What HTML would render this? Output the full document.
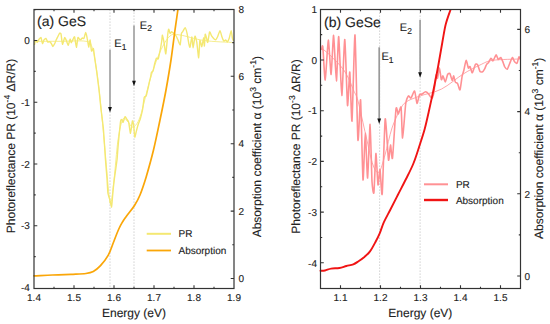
<!DOCTYPE html>
<html><head><meta charset="utf-8"><style>
html,body{margin:0;padding:0;background:#fff;}
svg{display:block;}
text{text-rendering:geometricPrecision;stroke:#222;stroke-width:0.12px;}
</style></head><body>
<svg width="550" height="324" viewBox="0 0 550 324" font-family="Liberation Sans, sans-serif" fill="#222">
<rect width="550" height="324" fill="#fff"/>
<line x1="110" y1="9.5" x2="110" y2="287.5" stroke="#cccccc" stroke-width="1.1" stroke-dasharray="1.2 1.8"/>
<line x1="134" y1="9.5" x2="134" y2="287.5" stroke="#cccccc" stroke-width="1.1" stroke-dasharray="1.2 1.8"/>
<line x1="379.6" y1="9.5" x2="379.6" y2="287.5" stroke="#cccccc" stroke-width="1.1" stroke-dasharray="1.2 1.8"/>
<line x1="420.1" y1="9.5" x2="420.1" y2="287.5" stroke="#cccccc" stroke-width="1.1" stroke-dasharray="1.2 1.8"/>
<path d="M34.0 41.3C38.3 41.3 51.3 41.3 60.0 41.3C68.7 41.3 80.7 40.3 86.0 41.3C91.3 42.2 90.3 42.9 92.0 47.0C93.7 51.1 94.7 57.5 96.0 66.0C97.3 74.5 98.5 84.0 100.0 98.0C101.5 112.0 103.5 133.8 105.0 150.0C106.5 166.2 108.0 186.2 109.0 195.0C110.0 203.8 110.2 205.5 111.0 203.0C111.8 200.5 112.8 190.5 114.0 180.0C115.2 169.5 116.5 150.2 118.0 140.0C119.5 129.8 121.3 122.0 123.0 119.0C124.7 116.0 126.3 120.7 128.0 122.0C129.7 123.3 131.0 127.8 133.0 127.0C135.0 126.2 137.2 124.8 140.0 117.0C142.8 109.2 146.7 90.8 150.0 80.0C153.3 69.2 156.7 59.3 160.0 52.0C163.3 44.7 166.7 38.8 170.0 36.0C173.3 33.2 174.3 34.2 180.0 35.0C185.7 35.8 195.0 39.2 204.0 40.5C213.0 41.8 229.0 42.2 234.0 42.5" fill="none" stroke="#f4e872" stroke-width="0.8" stroke-linejoin="round"/>
<path d="M34.4 45.0C34.5 44.6 35.3 40.8 35.5 40.6C35.7 40.4 37.0 42.4 37.3 42.4C37.5 42.4 38.2 40.4 38.5 40.0C38.8 39.6 40.7 37.3 41.0 37.6C41.3 37.9 42.2 43.4 42.5 43.6C42.8 43.8 43.7 40.3 44.0 39.9C44.3 39.5 45.6 38.2 45.9 38.4C46.2 38.6 47.4 41.7 47.7 42.0C48.0 42.3 49.3 41.6 49.6 41.7C49.9 41.8 51.0 43.1 51.3 43.5C51.6 43.9 52.6 46.5 52.9 46.5C53.2 46.5 54.4 44.1 54.7 43.6C55.0 43.1 56.0 40.5 56.2 39.9C56.5 39.3 57.4 37.5 57.7 36.9C58.0 36.3 59.3 33.5 59.6 33.2C59.9 33.0 60.8 33.0 61.0 33.9C61.2 34.8 62.2 44.0 62.5 44.3C62.8 44.6 64.3 38.0 64.6 37.6C64.9 37.2 65.8 39.2 66.1 39.9C66.4 40.5 68.0 45.5 68.3 45.4C68.6 45.3 69.8 39.3 70.1 39.1C70.3 38.9 71.0 42.8 71.3 42.8C71.5 42.8 72.8 39.6 73.1 39.1C73.4 38.6 74.3 36.2 74.6 36.9C74.9 37.6 76.1 47.2 76.4 47.3C76.7 47.4 77.7 38.3 77.9 37.6C78.2 36.9 79.2 38.9 79.4 39.1C79.7 39.3 80.7 39.6 80.9 39.5C81.2 39.4 82.2 38.1 82.4 38.0C82.7 37.9 83.6 38.9 83.9 38.4C84.2 37.9 85.4 32.4 85.7 32.4C86.0 32.4 87.0 37.2 87.2 38.4C87.5 39.6 88.5 46.9 88.7 47.0C88.9 47.1 89.9 39.7 90.1 40.0C90.3 40.3 91.2 50.3 91.5 51.0C91.8 51.7 93.1 48.1 93.4 48.6C93.7 49.1 94.3 55.3 94.6 57.3C94.9 59.3 96.4 69.7 96.8 72.4C97.2 75.1 98.6 86.6 99.0 89.7C99.4 92.8 100.7 106.8 101.1 110.0C101.5 113.2 102.9 123.6 103.3 127.8C103.7 132.0 105.2 155.8 105.5 160.0C105.8 164.2 106.8 175.8 107.0 178.5C107.2 181.2 107.7 191.3 107.9 193.0C108.1 194.7 109.4 197.8 109.7 199.0C110.0 200.2 111.4 207.2 111.6 207.0C111.8 206.8 112.3 199.4 112.5 197.0C112.7 194.6 114.0 181.6 114.4 178.5C114.8 175.4 116.7 162.8 117.0 160.0C117.3 157.2 117.9 148.2 118.2 145.0C118.5 141.8 120.3 123.1 120.6 121.0C120.9 118.9 121.7 119.7 121.9 119.8C122.1 119.9 122.8 122.6 123.1 122.3C123.4 122.0 124.7 117.0 125.0 116.7C125.3 116.4 126.5 118.7 126.8 119.2C127.1 119.7 128.4 121.1 128.7 122.3C129.0 123.5 130.2 133.5 130.5 133.4C130.8 133.3 132.1 121.7 132.4 121.0C132.7 120.3 133.4 123.5 133.6 124.8C133.8 126.1 134.5 136.7 134.8 137.1C135.1 137.5 136.4 130.8 136.7 129.7C137.0 128.6 138.2 124.4 138.5 123.5C138.8 122.6 140.1 119.7 140.4 118.6C140.7 117.5 142.2 111.8 142.5 110.0C142.8 108.2 144.0 98.4 144.3 97.2C144.6 96.0 145.9 96.7 146.2 96.0C146.5 95.3 147.7 89.6 148.0 88.5C148.3 87.4 149.1 83.2 149.3 82.3C149.5 81.4 150.3 78.2 150.5 77.4C150.7 76.6 151.2 73.0 151.4 72.5C151.6 72.0 152.8 71.6 153.1 70.8C153.4 70.0 154.5 64.3 154.8 63.2C155.1 62.1 156.2 58.5 156.5 58.1C156.8 57.8 157.9 59.6 158.2 59.0C158.5 58.4 159.6 52.7 159.9 51.3C160.2 49.9 161.4 43.3 161.6 42.0C161.8 40.7 162.2 35.1 162.4 35.2C162.6 35.3 163.8 41.2 164.1 42.8C164.4 44.4 165.5 54.4 165.8 53.9C166.1 53.4 167.3 39.0 167.5 36.9C167.7 34.8 168.5 29.5 168.7 29.2C168.9 28.9 169.8 33.3 170.1 33.5C170.4 33.7 171.3 31.6 171.8 31.8C172.3 32.0 175.4 35.0 175.9 35.6C176.4 36.2 177.3 38.5 177.7 39.3C178.1 40.1 179.9 45.3 180.2 44.8C180.5 44.3 181.2 34.8 181.4 33.7C181.6 32.6 182.3 32.4 182.6 31.9C182.9 31.4 184.7 27.5 185.1 27.6C185.5 27.7 186.7 31.8 187.0 33.1C187.3 34.4 188.6 42.4 188.8 43.6C189.1 44.8 189.7 47.9 190.0 47.3C190.3 46.7 191.6 36.8 191.9 36.8C192.2 36.8 192.8 47.9 193.1 47.9C193.4 47.9 194.7 36.7 195.0 36.2C195.3 35.7 196.5 40.6 196.8 42.4C197.1 44.2 198.4 58.0 198.7 57.8C199.0 57.6 199.6 41.4 199.9 40.5C200.2 39.6 201.5 46.9 201.8 46.7C202.1 46.5 203.4 38.1 203.6 38.0C203.8 37.9 204.3 46.3 204.4 46.0C204.5 45.7 205.0 35.0 205.2 34.3C205.4 33.6 206.3 37.3 206.5 38.0C206.7 38.7 207.4 42.9 207.7 42.4C208.0 41.9 209.3 32.5 209.6 31.9C209.9 31.3 211.0 35.0 211.4 35.6C211.8 36.2 213.5 38.3 213.9 38.7C214.3 39.1 215.4 40.1 215.7 39.9C216.0 39.7 217.2 37.6 217.6 36.8C218.0 36.0 219.6 30.6 220.0 30.6C220.4 30.6 221.6 35.9 221.9 36.8C222.2 37.7 223.5 40.8 223.8 41.1C224.1 41.4 225.3 39.8 225.6 39.9C225.9 40.0 227.2 42.0 227.5 41.8C227.8 41.6 229.0 38.9 229.3 38.0C229.6 37.1 230.9 30.6 231.2 30.6C231.5 30.6 232.2 37.1 232.4 38.0C232.6 38.9 233.4 40.8 233.5 41.0" fill="none" stroke="#f4e872" stroke-width="1.4" stroke-linejoin="round"/>
<path d="M322.8 49.0C324.0 50.0 327.6 52.9 330.0 55.2C332.4 57.5 335.2 60.3 337.4 62.6C339.6 64.9 341.1 66.4 343.0 69.0C344.9 71.6 346.7 74.6 348.5 78.3C350.3 82.0 352.4 87.5 354.0 91.3C355.6 95.1 356.0 93.5 358.0 101.0C360.0 108.5 363.5 125.3 366.0 136.0C368.5 146.7 370.8 159.0 373.0 165.0C375.2 171.0 377.0 173.7 379.0 172.0C381.0 170.3 382.8 162.3 385.0 155.0C387.2 147.7 389.5 135.5 392.0 128.0C394.5 120.5 397.7 114.3 400.0 110.0C402.3 105.7 402.7 104.3 406.0 102.0C409.3 99.7 414.1 98.2 420.0 96.0C425.9 93.8 434.4 92.7 441.6 89.0C448.8 85.3 456.8 78.0 463.2 74.0C469.6 70.0 475.0 67.3 480.0 65.0C485.0 62.7 486.3 61.3 493.0 60.3C499.7 59.3 515.5 59.2 520.0 59.0" fill="none" stroke="#ff9194" stroke-width="0.8" stroke-linejoin="round"/>
<path d="M321.5 50.0C321.6 49.7 322.4 43.7 322.8 46.7C323.2 49.7 324.6 80.7 325.2 80.0C325.8 79.3 327.7 40.8 328.3 40.2C328.9 39.6 330.6 74.9 331.1 74.4C331.6 73.9 333.1 34.7 333.6 35.4C334.1 36.1 335.9 80.9 336.4 81.0C336.9 81.1 338.2 35.2 338.7 36.7C339.2 38.2 341.2 95.2 341.8 95.5C342.4 95.8 344.2 38.5 344.8 39.5C345.4 40.5 347.0 102.2 347.5 105.4C348.0 108.7 349.4 70.4 349.8 72.0C350.2 73.6 351.5 124.7 352.0 121.0C352.5 117.3 354.4 33.0 355.0 34.9C355.6 36.8 357.3 133.3 357.9 139.8C358.5 146.3 360.1 96.0 360.6 100.0C361.1 104.0 362.5 176.5 363.0 179.8C363.5 183.1 364.8 133.5 365.3 133.3C365.8 133.1 367.1 178.9 367.6 178.0C368.1 177.1 369.7 124.0 370.1 124.3C370.5 124.6 371.6 174.7 372.0 181.5C372.4 188.3 373.5 195.4 373.9 192.6C374.3 189.8 375.5 154.3 375.9 153.5C376.3 152.7 377.6 183.2 378.0 184.8C378.4 186.4 379.6 168.6 380.0 169.5C380.4 170.4 381.7 199.1 382.2 194.0C382.7 188.9 384.6 122.4 385.2 119.0C385.8 115.6 388.0 157.4 388.5 160.0C389.0 162.6 390.1 145.2 390.5 145.0C390.9 144.8 391.9 161.6 392.5 158.0C393.1 154.4 395.4 113.4 396.0 109.0C396.6 104.6 397.8 114.2 398.3 114.0C398.8 113.8 400.7 105.0 401.1 107.4C401.5 109.8 402.1 138.3 402.6 138.0C403.1 137.7 405.1 108.2 405.7 104.0C406.3 99.8 407.9 96.6 408.4 96.0C408.9 95.4 410.4 98.5 411.0 98.0C411.6 97.5 414.0 90.5 414.6 91.0C415.2 91.5 416.5 102.9 417.0 103.3C417.5 103.7 419.0 95.6 419.5 94.7C420.0 93.8 421.6 94.3 422.2 94.0C422.8 93.7 424.8 91.8 425.4 91.8C426.0 91.8 428.0 93.3 428.6 94.0C429.2 94.7 431.4 98.5 431.9 98.3C432.4 98.1 433.6 94.1 434.0 91.8C434.4 89.5 435.6 76.4 436.0 75.0C436.4 73.6 437.2 78.9 437.5 78.2C437.8 77.5 439.0 67.9 439.4 68.1C439.8 68.2 441.0 78.9 441.4 79.7C441.8 80.5 442.6 75.7 443.0 75.9C443.4 76.1 444.8 82.1 445.3 82.0C445.8 81.9 447.1 75.3 447.6 74.5C448.1 73.7 449.4 72.9 449.9 73.5C450.4 74.1 451.8 80.3 452.2 80.5C452.6 80.7 453.4 75.8 453.7 75.9C454.0 76.1 454.9 81.2 455.3 82.0C455.7 82.8 457.1 82.8 457.6 83.6C458.1 84.4 459.5 90.6 460.0 89.8C460.5 89.0 461.8 77.8 462.2 75.9C462.6 74.0 463.4 72.0 463.8 70.5C464.2 69.0 465.6 60.6 466.1 60.4C466.6 60.2 468.0 67.5 468.4 68.1C468.8 68.7 469.6 66.0 470.0 66.5C470.4 67.0 471.8 73.0 472.3 72.8C472.8 72.6 474.9 65.1 475.4 64.3C475.9 63.5 477.2 64.3 477.7 65.0C478.2 65.7 479.5 70.8 480.0 71.5C480.5 72.2 482.2 72.0 482.6 71.8C483.1 71.6 484.1 69.9 484.5 69.2C484.9 68.5 486.1 65.2 486.5 64.6C486.9 63.9 487.9 63.3 488.4 62.7C488.8 62.1 490.5 58.4 491.0 58.2C491.5 58.0 492.5 61.1 493.0 60.8C493.5 60.5 495.7 55.0 496.2 54.9C496.7 54.8 497.7 59.2 498.2 59.5C498.7 59.8 500.4 57.3 500.8 57.5C501.2 57.7 502.3 60.5 502.7 61.4C503.1 62.3 504.2 65.8 504.6 66.6C505.1 67.4 506.7 69.5 507.2 69.2C507.7 68.9 509.3 64.5 509.8 63.3C510.3 62.1 511.9 57.7 512.4 57.5C512.9 57.3 513.9 60.8 514.4 61.4C514.9 62.0 516.5 63.8 517.0 63.3C517.5 62.8 518.6 57.3 518.9 56.9C519.2 56.5 520.2 58.8 520.3 59.0" fill="none" stroke="#ff9194" stroke-width="1.6" stroke-linejoin="round"/>
<line x1="110" y1="49.7" x2="110" y2="108.5" stroke="#b0b0b0" stroke-width="2"/>
<path d="M108.1 107.0L111.9 107.0L110 112.5Z" fill="#111"/>
<line x1="134" y1="25.6" x2="134" y2="82.3" stroke="#b0b0b0" stroke-width="2"/>
<path d="M132.1 80.8L135.9 80.8L134 86.3Z" fill="#111"/>
<line x1="379.2" y1="47.3" x2="379.2" y2="120" stroke="#999" stroke-width="1.7"/>
<path d="M377.3 118.5L381.09999999999997 118.5L379.2 124Z" fill="#111"/>
<line x1="420.1" y1="20" x2="420.1" y2="73.8" stroke="#a4a4a4" stroke-width="1.8"/>
<path d="M418.20000000000005 72.3L422.0 72.3L420.1 77.8Z" fill="#111"/>
<path d="M34.0 275.9C37.1 275.8 46.3 275.2 52.5 275.0C58.7 274.8 65.4 274.6 71.0 274.4C76.6 274.1 82.2 274.0 85.9 273.5C89.6 273.0 90.9 272.8 93.3 271.5C95.7 270.2 98.0 268.4 100.5 265.7C103.0 263.0 106.1 259.1 108.3 255.2C110.5 251.2 111.8 246.4 113.6 242.0C115.3 237.6 117.3 232.3 118.8 229.0C120.3 225.7 121.2 224.2 122.5 222.0C123.8 219.8 124.6 218.8 126.6 216.0C128.6 213.2 132.3 209.0 134.5 205.5C136.7 202.0 138.1 199.7 140.0 195.0C141.9 190.3 143.8 184.7 146.1 177.2C148.3 169.7 151.2 159.5 153.5 150.0C155.8 140.5 157.9 130.0 160.0 120.0C162.1 110.0 164.2 100.0 166.0 90.0C167.8 80.0 169.5 70.0 171.0 60.0C172.5 50.0 173.8 38.5 175.0 30.0C176.2 21.5 177.5 12.5 178.0 9.0" fill="none" stroke="#faa608" stroke-width="1.7" stroke-linejoin="round" stroke-linecap="round"/>
<path d="M320.5 270.8C321.2 270.8 323.2 270.9 325.0 270.5C326.8 270.1 328.7 269.0 331.1 268.6C333.5 268.2 336.8 268.4 339.4 268.0C341.9 267.6 344.1 266.6 346.4 266.0C348.7 265.4 351.2 265.2 353.3 264.4C355.4 263.6 357.0 262.2 358.9 261.0C360.8 259.8 362.5 258.6 364.4 257.0C366.2 255.4 368.1 254.0 370.0 251.4C371.9 248.8 374.0 244.7 375.6 241.7C377.2 238.7 378.3 236.6 379.7 233.3C381.1 230.1 382.1 226.1 383.9 222.2C385.7 218.3 388.0 214.3 390.3 209.8C392.6 205.3 395.2 200.1 397.8 195.0C400.4 189.9 403.4 184.2 406.0 179.0C408.6 173.8 411.1 169.2 413.4 163.5C415.7 157.8 417.8 150.8 419.7 145.0C421.6 139.2 423.2 134.5 424.7 129.0C426.2 123.5 427.2 118.8 428.7 112.0C430.2 105.2 432.3 95.7 433.9 88.0C435.5 80.3 436.8 73.7 438.2 66.0C439.6 58.3 441.1 49.0 442.4 42.0C443.7 35.0 444.4 29.4 445.8 24.0C447.2 18.6 449.8 11.9 450.6 9.5" fill="none" stroke="#f01414" stroke-width="1.9" stroke-linejoin="round" stroke-linecap="round"/>
<path d="M0 0H550V9.5H0Z" fill="#fff"/>
<rect x="34" y="9.5" width="200" height="279.0" fill="none" stroke="#333" stroke-width="1.2"/>
<rect x="320.5" y="9.5" width="200.0" height="279.0" fill="none" stroke="#333" stroke-width="1.2"/>
<path d="M74.0 288.5V285.2M74.0 9.5V12.8M114.0 288.5V285.2M114.0 9.5V12.8M154.0 288.5V285.2M154.0 9.5V12.8M194.0 288.5V285.2M194.0 9.5V12.8M54.0 288.5V286.8M54.0 9.5V11.2M94.0 288.5V286.8M94.0 9.5V11.2M134.0 288.5V286.8M134.0 9.5V11.2M174.0 288.5V286.8M174.0 9.5V11.2M214.0 288.5V286.8M214.0 9.5V11.2" stroke="#333" stroke-width="1.1" fill="none"/>
<path d="M340.5 288.5V285.2M340.5 9.5V12.8M380.5 288.5V285.2M380.5 9.5V12.8M420.5 288.5V285.2M420.5 9.5V12.8M460.5 288.5V285.2M460.5 9.5V12.8M500.5 288.5V285.2M500.5 9.5V12.8M360.5 288.5V286.8M360.5 9.5V11.2M400.5 288.5V286.8M400.5 9.5V11.2M440.5 288.5V286.8M440.5 9.5V11.2M480.5 288.5V286.8M480.5 9.5V11.2" stroke="#333" stroke-width="1.1" fill="none"/>
<path d="M34 225.8H37.3M34 164.0H37.3M34 102.2H37.3M34 40.5H37.3M34 256.6H35.7M34 194.9H35.7M34 133.1H35.7M34 71.4H35.7M34 9.6H35.7" stroke="#333" stroke-width="1.1" fill="none"/>
<path d="M234 278.5H230.7M234 211.1H230.7M234 143.7H230.7M234 76.3H230.7M234 244.8H232.3M234 177.4H232.3M234 110.0H232.3M234 42.6H232.3" stroke="#333" stroke-width="1.1" fill="none"/>
<path d="M320.5 262.8H323.8M320.5 212.1H323.8M320.5 161.4H323.8M320.5 110.7H323.8M320.5 60.0H323.8M320.5 237.5H322.2M320.5 186.8H322.2M320.5 136.1H322.2M320.5 85.3H322.2M320.5 34.6H322.2" stroke="#333" stroke-width="1.1" fill="none"/>
<path d="M520.5 276.0H517.2M520.5 193.8H517.2M520.5 111.6H517.2M520.5 29.4H517.2M520.5 234.9H518.8M520.5 152.7H518.8M520.5 70.5H518.8" stroke="#333" stroke-width="1.1" fill="none"/>
<text x="34.0" y="301" font-size="10" text-anchor="middle" >1.4</text>
<text x="74.0" y="301" font-size="10" text-anchor="middle" >1.5</text>
<text x="114.0" y="301" font-size="10" text-anchor="middle" >1.6</text>
<text x="154.0" y="301" font-size="10" text-anchor="middle" >1.7</text>
<text x="194.0" y="301" font-size="10" text-anchor="middle" >1.8</text>
<text x="234.0" y="301" font-size="10" text-anchor="middle" >1.9</text>
<text x="340.5" y="301" font-size="10" text-anchor="middle" >1.1</text>
<text x="380.5" y="301" font-size="10" text-anchor="middle" >1.2</text>
<text x="420.5" y="301" font-size="10" text-anchor="middle" >1.3</text>
<text x="460.5" y="301" font-size="10" text-anchor="middle" >1.4</text>
<text x="500.5" y="301" font-size="10" text-anchor="middle" >1.5</text>
<text x="29.8" y="291.2" font-size="10" text-anchor="end" >-4</text>
<text x="29.8" y="229.4" font-size="10" text-anchor="end" >-3</text>
<text x="29.8" y="167.7" font-size="10" text-anchor="end" >-2</text>
<text x="29.8" y="106.0" font-size="10" text-anchor="end" >-1</text>
<text x="29.8" y="44.2" font-size="10" text-anchor="end" >0</text>
<text x="317" y="13.0" font-size="10" text-anchor="end" >1</text>
<text x="317" y="63.7" font-size="10" text-anchor="end" >0</text>
<text x="317" y="114.4" font-size="10" text-anchor="end" >-1</text>
<text x="317" y="165.1" font-size="10" text-anchor="end" >-2</text>
<text x="317" y="215.8" font-size="10" text-anchor="end" >-3</text>
<text x="317" y="266.5" font-size="10" text-anchor="end" >-4</text>
<text x="238.5" y="282.2" font-size="10" text-anchor="start" >0</text>
<text x="238.5" y="214.8" font-size="10" text-anchor="start" >2</text>
<text x="238.5" y="147.4" font-size="10" text-anchor="start" >4</text>
<text x="238.5" y="80.0" font-size="10" text-anchor="start" >6</text>
<text x="238.5" y="12.6" font-size="10" text-anchor="start" >8</text>
<text x="524.5" y="279.7" font-size="10" text-anchor="start" >0</text>
<text x="524.5" y="197.5" font-size="10" text-anchor="start" >2</text>
<text x="524.5" y="115.3" font-size="10" text-anchor="start" >4</text>
<text x="524.5" y="33.1" font-size="10" text-anchor="start" >6</text>
<text x="134" y="317" font-size="12" text-anchor="middle" >Energy (eV)</text>
<text x="420.3" y="317" font-size="12" text-anchor="middle" >Energy (eV)</text>
<text transform="translate(14.8,146) rotate(-90)" font-size="12" text-anchor="middle">Photoreflectance PR (10<tspan dy="-5.3" font-size="8.6">-4</tspan><tspan dy="5.3"> ΔR/R)</tspan></text>
<text transform="translate(300.1,146.5) rotate(-90)" font-size="12" text-anchor="middle">Photoreflectance PR (10<tspan dy="-5.3" font-size="8.6">-3</tspan><tspan dy="5.3"> ΔR/R)</tspan></text>
<text transform="translate(261,146.7) rotate(-90)" font-size="12" text-anchor="middle">Absorption coefficient α (10<tspan dy="-5.3" font-size="8.6">3</tspan><tspan dy="5.3"> cm<tspan dy="-5.3" font-size="8.6">-1</tspan><tspan dy="5.3">)</tspan></tspan></text>
<text transform="translate(543.4,148.3) rotate(-90)" font-size="12" text-anchor="middle">Absorption coefficient α (10<tspan dy="-5.3" font-size="8.6">3</tspan><tspan dy="5.3"> cm<tspan dy="-5.3" font-size="8.6">-1</tspan><tspan dy="5.3">)</tspan></tspan></text>
<text x="37" y="25.5" font-size="14" text-anchor="start" >(a) GeS</text>
<text x="324" y="27" font-size="14" text-anchor="start" >(b) GeSe</text>
<text x="114.3" y="47" font-size="11">E<tspan font-size="8.5" dy="2.8">1</tspan></text>
<text x="139.8" y="28.5" font-size="11">E<tspan font-size="8.5" dy="2.8">2</tspan></text>
<text x="381.4" y="59.8" font-size="11">E<tspan font-size="8.5" dy="2.8">1</tspan></text>
<text x="399.8" y="31.2" font-size="11">E<tspan font-size="8.5" dy="2.8">2</tspan></text>
<line x1="146.7" y1="233.8" x2="171" y2="233.8" stroke="#f4e872" stroke-width="2"/>
<line x1="146.7" y1="250.5" x2="171" y2="250.5" stroke="#faa608" stroke-width="1.8"/>
<text x="178.5" y="237.4" font-size="10" text-anchor="start" >PR</text>
<text x="178.5" y="254.1" font-size="10" text-anchor="start" >Absorption</text>
<line x1="424" y1="184.3" x2="448" y2="184.3" stroke="#ff9194" stroke-width="2"/>
<line x1="424" y1="200" x2="448" y2="200" stroke="#f01414" stroke-width="2.4"/>
<text x="455.9" y="187.9" font-size="10" text-anchor="start" >PR</text>
<text x="455.9" y="203.6" font-size="10" text-anchor="start" >Absorption</text>
</svg>
</body></html>
